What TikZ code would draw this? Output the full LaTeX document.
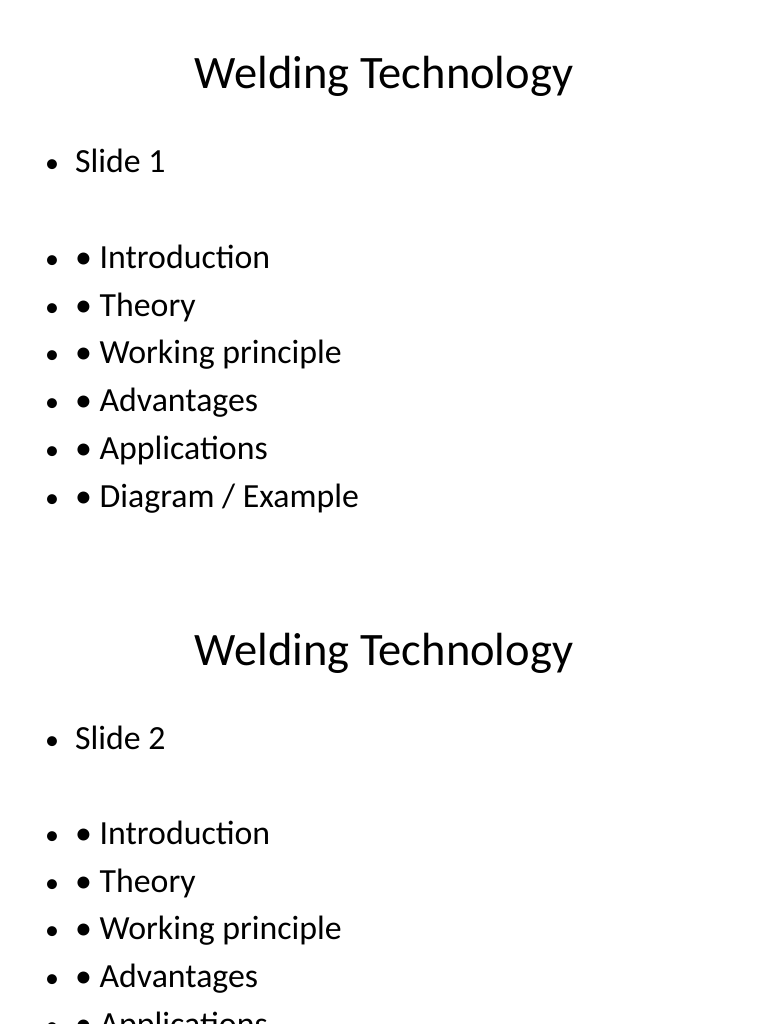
\documentclass[tikz,border=0pt]{standalone}
\usepackage{fontspec}
\setmainfont{Carlito}
\begin{document}
\begin{tikzpicture}[x=1pt,y=-1pt,
  title/.style={anchor=base,font=\fontsize{46.5}{54}\selectfont,inner sep=0pt},
  item/.style={anchor=base west,font=\fontsize{33.8}{40}\selectfont,inner sep=0pt},
  dot/.style={anchor=base west,font=\fontsize{28}{34}\selectfont,inner sep=0pt}]
\useasboundingbox (0,0) rectangle (768,1024);
\clip (0,0) rectangle (768,1024);
\fill[white] (0,0) rectangle (768,1024);
\node[title] (t1) at (384,89) {Welding Technology};
\node[title] (t2) at (384,665) {Welding Technology};
\foreach \base/\txt [count=\i] in {
  173/{Slide 1}, 268/{• Introduction}, 316/{• Theory}, 363/{• Working principle},
  411/{• Advantages}, 459/{• Applications}, 507/{• Diagram / Example},
  749/{Slide 2}, 844/{• Introduction}, 892/{• Theory}, 939/{• Working principle},
  987/{• Advantages}, 1035/{• Applications}}{
  \node[dot] (b\i) at (45,\base) {•};
  \node[item] (l\i) at (75,\base) {\txt};
}
\end{tikzpicture}
\end{document}
